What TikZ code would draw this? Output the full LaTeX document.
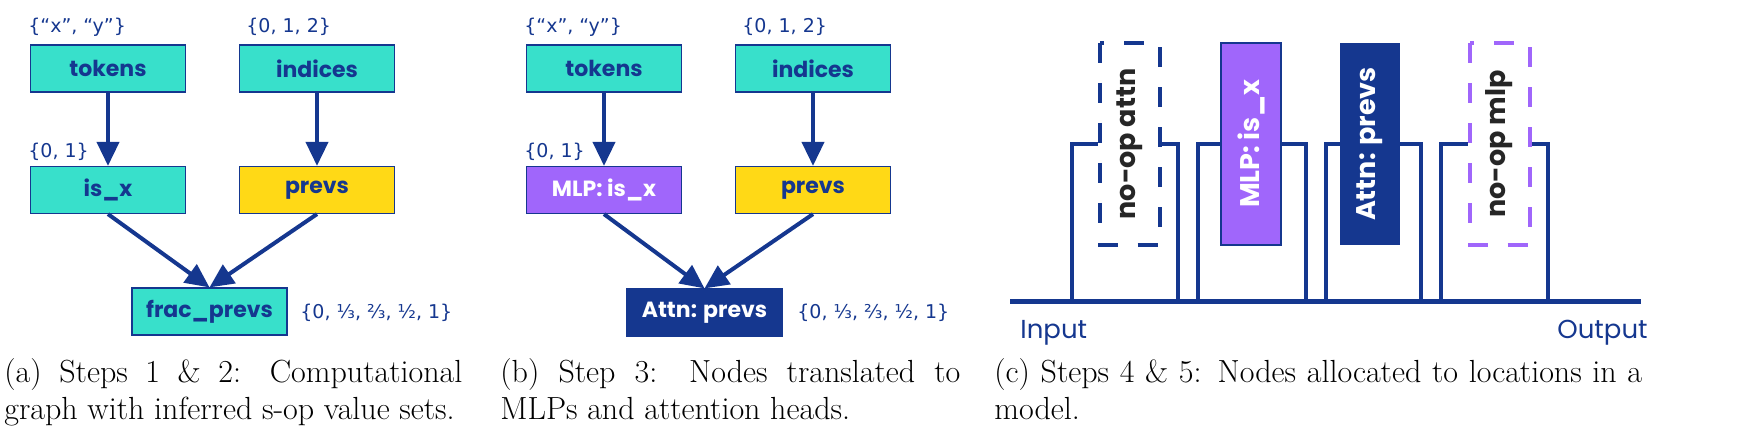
\documentclass[tikz,border=0pt]{standalone}
\usepackage{fontspec}
\setmainfont{Latin Modern Roman}
\newfontfamily\boxfont{Poppins}
\newfontfamily\setfont{DejaVu Sans}
\usetikzlibrary{arrows.meta}
\definecolor{nodeteal}{HTML}{38E0CB}
\definecolor{nodeyellow}{HTML}{FFD916}
\definecolor{nodepurple}{HTML}{A066FB}
\definecolor{navy}{HTML}{15378F}
\tikzset{
  op/.style={draw=navy, line width=0.6pt, minimum width=77.5pt, minimum height=23.5pt, inner sep=0pt,
    font=\boxfont\bfseries\fontsize{11}{13}\selectfont, text=navy},
  teal op/.style={op, fill=nodeteal},
  yellow op/.style={op, fill=nodeyellow},
  mlp op/.style={op, fill=nodepurple, text=white},
  attn op/.style={op, fill=navy, text=white},
  vals/.style={anchor=west, inner sep=0pt, text=navy, font=\setfont\fontsize{9.5}{11}\selectfont},
  flow/.style={draw=navy, line width=2pt, -{Triangle[width=11pt,length=12pt]}},
  layer/.style={rotate=90, minimum width=101pt, minimum height=30pt, inner sep=0pt,
    font=\boxfont\bfseries\fontsize{13.5}{15}\selectfont},
  resid/.style={draw=navy, line width=2pt},
  caption/.style={anchor=north west, inner sep=0pt, align=justify, font=\fontsize{16}{18.5}\selectfont}
}
\begin{document}
\begin{tikzpicture}[x=0.5pt, y=-0.5pt]
\useasboundingbox (0,0) rectangle (1750,432);

% (a) computational graph
\node[teal op] (tokA) at (108,68.5) {tokens};
\node[teal op] (idxA) at (317,68.5) {indices};
\node[teal op] (isxA) at (108,190) {is\_x};
\node[yellow op] (prvA) at (317,190) {prevs};
\node[teal op] (fracA) at (209.5,311.5) {frac\_prevs};
\node[vals] (vtokA) at (28,27) {\{“x”, “y”\}};
\node[vals] (vidxA) at (246,27) {\{0, 1, 2\}};
\node[vals] (visxA) at (28,152) {\{0, 1\}};
\node[vals] (vfracA) at (300,313) {\{0, ⅓, ⅔, ½, 1\}};
\draw[flow] (tokA) -- (isxA);
\draw[flow] (idxA) -- (prvA);
\draw[flow] (isxA.south) -- (fracA.north);
\draw[flow] (prvA.south) -- (fracA.north);
\node[caption, text width=229pt] (capA) at (4,358)
  {(a) Steps 1 \& 2: Computational graph with inferred s-op value sets.};

% (b) translated nodes
\node[teal op] (tokB) at (604,68.5) {tokens};
\node[teal op] (idxB) at (813,68.5) {indices};
\node[mlp op] (isxB) at (604,190) {MLP: is\_x};
\node[yellow op] (prvB) at (813,190) {prevs};
\node[attn op] (fracB) at (704.5,312.5) {Attn: prevs};
\node[vals] (vtokB) at (524,27) {\{“x”, “y”\}};
\node[vals] (vidxB) at (742,27) {\{0, 1, 2\}};
\node[vals] (visxB) at (524,152) {\{0, 1\}};
\node[vals] (vfracB) at (797,313) {\{0, ⅓, ⅔, ½, 1\}};
\draw[flow] (tokB) -- (isxB);
\draw[flow] (idxB) -- (prvB);
\draw[flow] (isxB.south) -- (fracB.north);
\draw[flow] (prvB.south) -- (fracB.north);
\node[caption, text width=230pt] (capB) at (500,358)
  {(b) Step 3: Nodes translated to MLPs and attention heads.};

% (c) allocation in the model
\coordinate (in) at (1010,302);
\coordinate (out) at (1641,302);
\draw[resid, line width=2.5pt] (in) -- (out);
\node[layer, draw=navy, line width=2pt, dash pattern=on 10pt off 10pt, text=black!85] (l1) at (1129.5,144) {no-op attn};
\node[layer, fill=nodepurple, draw=navy, line width=0.6pt, text=white] (l2) at (1251,144) {MLP: is\_x};
\node[layer, fill=navy, text=white] (l3) at (1370,144) {Attn: prevs};
\node[layer, draw=nodepurple, line width=2pt, dash pattern=on 10pt off 10pt, text=black!85] (l4) at (1499.5,144) {no-op mlp};
\foreach \b/\l/\r in {l1/1072/1178, l2/1198/1306, l3/1326/1421, l4/1441/1548}{
  \draw[resid] (\l,302) |- (\b.north);
  \draw[resid] (\b.south) -| (\r,302);
}
\node[anchor=west, inner sep=0pt, text=navy, font=\boxfont\fontsize{13}{15}\selectfont] (inlbl) at (1020,333) {Input};
\node[anchor=east, inner sep=0pt, text=navy, font=\boxfont\fontsize{13}{15}\selectfont] (outlbl) at (1648,333) {Output};
\node[caption, align=left, text width=330pt] (capC) at (994,358)
  {(c) Steps 4 \& 5: Nodes allocated to locations in a model.};
\end{tikzpicture}
\end{document}
